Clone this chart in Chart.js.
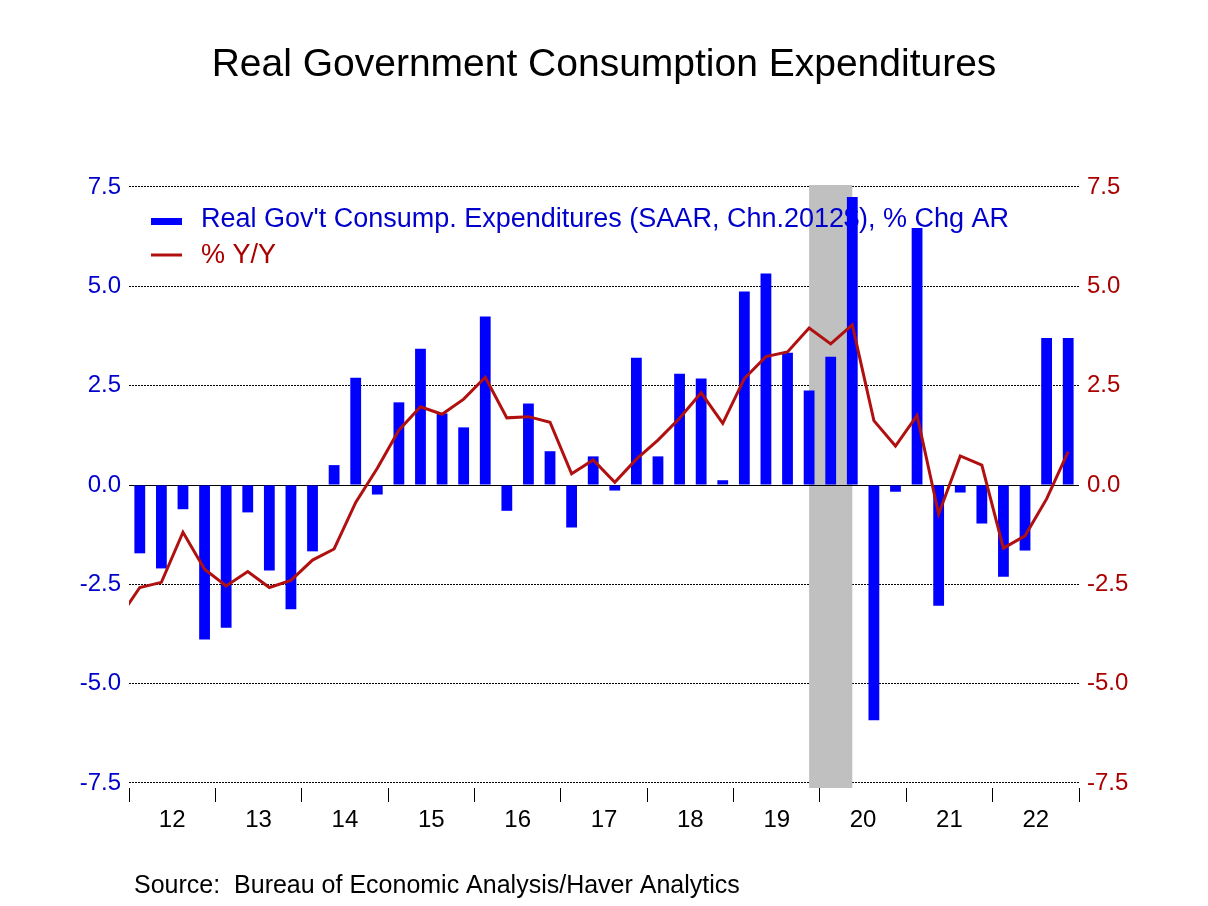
<!DOCTYPE html>
<html>
<head>
<meta charset="utf-8">
<script src="https://cdn.jsdelivr.net/npm/chart.js@4.4.0/dist/chart.umd.min.js"></script>
<style>
html,body{margin:0;padding:0;background:#fff;}
#wrap{width:1208px;height:906px;position:relative;}
</style>
</head>
<body>
<div id="wrap"><canvas id="c"></canvas></div>
<script>
// ---------- data ----------
const quarters = [
  '2012Q1','2012Q2','2012Q3','2012Q4','2013Q1','2013Q2','2013Q3','2013Q4',
  '2014Q1','2014Q2','2014Q3','2014Q4','2015Q1','2015Q2','2015Q3','2015Q4',
  '2016Q1','2016Q2','2016Q3','2016Q4','2017Q1','2017Q2','2017Q3','2017Q4',
  '2018Q1','2018Q2','2018Q3','2018Q4','2019Q1','2019Q2','2019Q3','2019Q4',
  '2020Q1','2020Q2','2020Q3','2020Q4','2021Q1','2021Q2','2021Q3','2021Q4',
  '2022Q1','2022Q2','2022Q3','2022Q4'
];
const yearLabels = ['12','13','14','15','16','17','18','19','20','21','22'];
const yTickValues = [-7.5, -5.0, -2.5, 0.0, 2.5, 5.0, 7.5];

// Real Gov't Consump. Expenditures, % Chg AR
const govChg = [
  -1.72, -2.10, -0.61, -3.89, -3.59, -0.69, -2.15, -3.13,
  -1.67,  0.50,  2.70, -0.24,  2.08,  3.43,  1.80,  1.45,
   4.24, -0.65,  2.05,  0.85, -1.07,  0.72, -0.14,  3.20,
   0.72,  2.80,  2.68,  0.12,  4.87,  5.32,  3.33,  2.38,
   3.23,  7.25, -5.92, -0.17,  6.47, -3.04, -0.19, -0.97,
  -2.31, -1.65,  3.70,  3.70
];
// % Y/Y (previous quarter 2011Q4 lies just left of the plot and is clipped)
const yoyPrevQuarter = -3.38;
const yoy = [
  -2.58, -2.45, -1.19, -2.12, -2.54, -2.18, -2.58, -2.40,
  -1.89, -1.61, -0.44,  0.42,  1.38,  1.97,  1.78,  2.16,
   2.71,  1.69,  1.72,  1.58,  0.28,  0.63,  0.07,  0.65,
   1.13,  1.68,  2.32,  1.55,  2.68,  3.23,  3.35,  3.95,
   3.55,  4.03,  1.62,  0.98,  1.75, -0.73,  0.73,  0.50,
  -1.59, -1.28, -0.35,  0.84
];
const recession = ['2019Q4', '2020Q2'];

const titleText = 'Real Government Consumption Expenditures';
const sourceText = 'Source:  Bureau of Economic Analysis/Haver Analytics';
const legendBarText = "Real Gov't Consump. Expenditures (SAAR, Chn.2012$), % Chg AR";
const legendLineText = '% Y/Y';

// ---------- styles ----------
const FONT = "'Liberation Sans', Arial, Helvetica, sans-serif";
const BLUE = '#0000ff';
const BLUE_TEXT = '#0000cc';
const RED = '#b01010';
const RED_TEXT = '#aa0000';

const barData = govChg.map((v, i) => ({x: i, y: v}));
const lineData = [{x: -1, y: yoyPrevQuarter}].concat(yoy.map((v, i) => ({x: i, y: v})));
const yearBounds = [];
for (let k = 0; k <= yearLabels.length; k++) yearBounds.push(k * 4 - 0.5);

const decor = {
  id: 'decor',
  beforeDatasetsDraw(chart) {
    const {ctx, chartArea: a, scales} = chart;
    const x = scales.x, y = scales.y;
    ctx.save();
    // recession shading
    const x0 = x.getPixelForValue(quarters.indexOf(recession[0]));
    const x1 = x.getPixelForValue(quarters.indexOf(recession[1]));
    ctx.fillStyle = '#c0c0c0';
    ctx.fillRect(x0, a.top, x1 - x0, a.bottom - a.top);
    // zero line
    const yz = Math.round(y.getPixelForValue(0)) + 0.5;
    ctx.strokeStyle = '#000';
    ctx.lineWidth = 1;
    ctx.setLineDash([]);
    ctx.beginPath();
    ctx.moveTo(a.left, yz);
    ctx.lineTo(a.right, yz);
    ctx.stroke();
    // legend (under the bars, like the original)
    const lx = a.left + 22;
    ctx.fillStyle = BLUE;
    ctx.fillRect(lx, a.top + 33, 31, 7);
    ctx.strokeStyle = RED;
    ctx.lineWidth = 3;
    ctx.beginPath();
    ctx.moveTo(lx, a.top + 70);
    ctx.lineTo(lx + 31, a.top + 70);
    ctx.stroke();
    ctx.font = '27px ' + FONT;
    ctx.textAlign = 'left';
    ctx.textBaseline = 'alphabetic';
    ctx.fillStyle = BLUE_TEXT;
    ctx.fillText(legendBarText, lx + 50, a.top + 42);
    ctx.fillStyle = RED_TEXT;
    ctx.fillText(legendLineText, lx + 50, a.top + 78);
    ctx.restore();
  },
  afterDraw(chart) {
    const {ctx, chartArea: a, scales} = chart;
    const x = scales.x;
    ctx.save();
    ctx.fillStyle = '#000';
    ctx.textBaseline = 'alphabetic';
    // title
    ctx.font = '39px ' + FONT;
    ctx.textAlign = 'center';
    ctx.fillText(titleText, chart.width / 2, 76);
    // year labels
    ctx.font = '24px ' + FONT;
    yearLabels.forEach((lab, k) => {
      ctx.fillText(lab, x.getPixelForValue(k * 4 + 1.5), a.bottom + 39);
    });
    // source
    ctx.font = '25px ' + FONT;
    ctx.textAlign = 'left';
    ctx.fillText(sourceText, 134, 893);
    ctx.restore();
  }
};

const yCommon = {
  min: -7.626,
  max: 7.55,
  afterBuildTicks: s => { s.ticks = yTickValues.map(v => ({value: v})); },
  border: {display: false},
};

new Chart(document.getElementById('c'), {
  type: 'bar',
  data: {
    datasets: [
      {
        type: 'line',
        label: legendLineText,
        data: lineData,
        borderColor: RED,
        borderWidth: 3,
        pointRadius: 0,
        tension: 0,
        fill: false,
        clip: 0,
        order: 0,
        yAxisID: 'y'
      },
      {
        type: 'bar',
        label: legendBarText,
        data: barData,
        backgroundColor: BLUE,
        borderWidth: 0,
        categoryPercentage: 1.0,
        barPercentage: 0.5,
        order: 1,
        yAxisID: 'y'
      }
    ]
  },
  options: {
    responsive: true,
    maintainAspectRatio: false,
    animation: false,
    events: [],
    layout: {padding: {top: 185, left: 0, right: 0, bottom: 0}},
    plugins: {legend: {display: false}, tooltip: {enabled: false}, title: {display: false}},
    scales: {
      x: {
        type: 'linear',
        min: -0.5,
        max: 43.5,
        offset: false,
        afterBuildTicks: s => { s.ticks = yearBounds.map(v => ({value: v})); },
        afterFit: s => { s.height = 118; },
        ticks: {autoSkip: false, callback: () => '', font: {family: FONT, size: 24}},
        grid: {
          offset: false,
          drawOnChartArea: false,
          drawTicks: true,
          tickLength: 14,
          tickColor: '#000',
          tickWidth: 1,
          lineWidth: 1
        },
        border: {display: false}
      },
      y: Object.assign({}, yCommon, {
        position: 'left',
        afterFit: s => { s.width = 129; },
        ticks: {
          color: BLUE_TEXT,
          padding: 8,
          font: {family: FONT, size: 24},
          callback: v => v.toFixed(1)
        },
        grid: {
          drawTicks: false,
          lineWidth: 1,
          color: c => (c.tick && c.tick.value === 0) ? 'rgba(0,0,0,0)' : '#000'
        },
        border: {display: false, dash: [2, 1]}
      }),
      y2: Object.assign({}, yCommon, {
        position: 'right',
        afterFit: s => { s.width = 129; },
        ticks: {
          color: RED_TEXT,
          padding: 8,
          font: {family: FONT, size: 24},
          callback: v => v.toFixed(1)
        },
        grid: {display: false, drawTicks: false}
      })
    }
  },
  plugins: [decor]
});
</script>
</body>
</html>
